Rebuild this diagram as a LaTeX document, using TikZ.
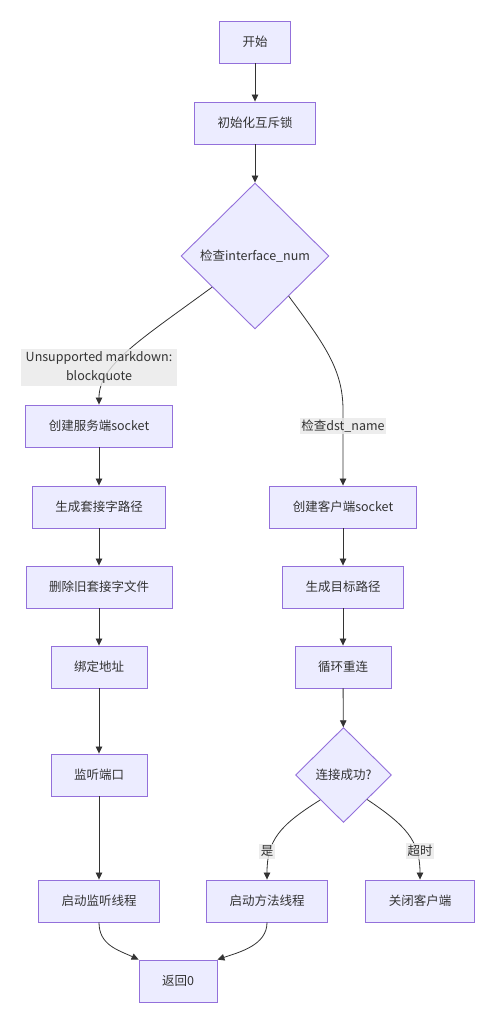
\documentclass[tikz,border=0pt]{standalone}
\usepackage{fontspec}
\setmainfont{Noto Sans CJK SC}
\usetikzlibrary{arrows.meta,shapes.geometric}
\definecolor{boxfill}{HTML}{ECECFF}
\definecolor{boxline}{HTML}{9370DB}
\definecolor{edgeline}{HTML}{333333}
\definecolor{labelbg}{HTML}{E8E8E8}
\tikzset{
	box/.style={draw=boxline, fill=boxfill, line width=0.9pt, minimum height=42pt, inner xsep=23pt, text=edgeline, font=\fontsize{12.5}{15}\selectfont},
	choice/.style={diamond, draw=boxline, fill=boxfill, line width=0.9pt, inner sep=0pt, text=edgeline, font=\fontsize{12.5}{15}\selectfont},
	flow/.style={draw=edgeline, line width=0.8pt, -{Triangle[length=7pt,width=6.5pt]}},
	tag/.style={fill=labelbg, fill opacity=0.8, text opacity=1, text=edgeline, inner xsep=1.5pt, inner ysep=2pt, font=\fontsize{12.5}{15}\selectfont}
}

\begin{document}
\begin{tikzpicture}[x=1pt, y=-1pt]
		%%%%% START %%%%%
		\useasboundingbox (0, 0) rectangle (496, 1024);
		
		\node[box] (start) at (255, 42) {开始};
		\node[box] (mutex) at (255, 123) {初始化互斥锁};
		\node[choice, minimum width=148pt, minimum height=146pt] (chk) at (255, 256) {检查interface\_num};
		
		\node[box] (srv) at (99, 426) {创建服务端socket};
		\node[box] (path) at (99, 507) {生成套接字路径};
		\node[box] (unl) at (99, 587) {删除旧套接字文件};
		\node[box] (bnd) at (99, 667) {绑定地址};
		\node[box] (lsn) at (99, 775) {监听端口};
		\node[box] (thr) at (99, 901) {启动监听线程};
		
		\node[box] (cli) at (343, 507) {创建客户端socket};
		\node[box] (dst) at (343, 587) {生成目标路径};
		\node[box] (rty) at (343, 667) {循环重连};
		\node[choice, minimum width=96pt, minimum height=95pt] (ok) at (343.5, 775) {连接成功?};
		\node[box] (mth) at (267, 901) {启动方法线程};
		\node[box] (cls) at (420, 901) {关闭客户端};
		
		\node[box] (ret) at (178, 981) {返回0};
		
		\draw[flow] (start) -- (mutex);
		\draw[flow] (mutex) -- (chk);
		
		\draw[flow] (chk.-144) .. controls (140, 340) and (99, 365) .. (srv.north);
		\node[tag, inner xsep=5pt, inner ysep=3pt, align=center, font=\fontsize{12.5}{19}\selectfont] (quote) at (99, 367.5) {Unsupported markdown:\\blockquote};
		\draw[flow] (chk.-50) .. controls (325, 345) and (343, 370) .. (343, 410) -- (cli.north);
		\node[tag] (dstname) at (343, 426) {检查dst\_name};
		
		\draw[flow] (srv) -- (path);
		\draw[flow] (path) -- (unl);
		\draw[flow] (unl) -- (bnd);
		\draw[flow] (bnd) -- (lsn);
		\draw[flow] (lsn) -- (thr);
		
		\draw[flow] (cli) -- (dst);
		\draw[flow] (dst) -- (rty);
		\draw[flow] (rty) -- (ok);
		
		\draw[flow] (ok.-133) .. controls (280, 825) and (267, 840) .. (mth.north);
		\node[tag] (yes) at (267, 851) {是};
		\draw[flow] (ok.-46) .. controls (405, 825) and (420, 840) .. (cls.north);
		\node[tag] (tmo) at (420, 851) {超时};
		
		\draw[flow] (thr.south) .. controls (99, 945) and (118, 950) .. (ret.north west);
		\draw[flow] (mth.south) .. controls (267, 945) and (240, 952) .. (ret.north east);
		%%%%% END %%%%%
\end{tikzpicture}
\end{document}
